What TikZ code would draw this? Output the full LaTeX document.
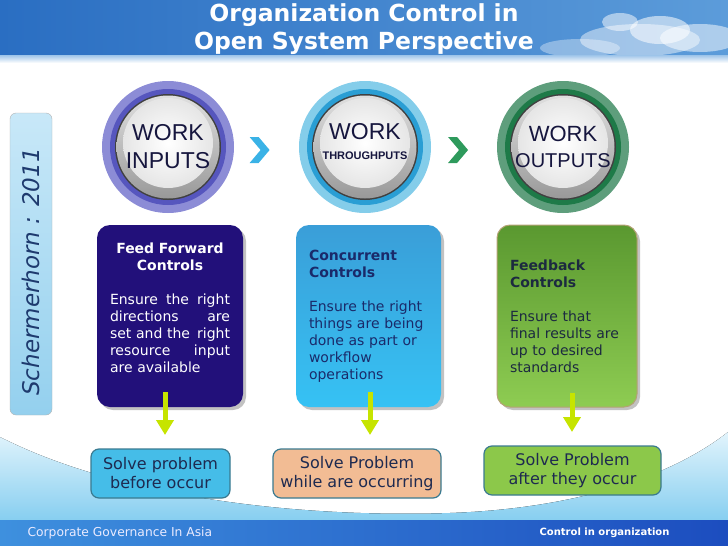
\documentclass[tikz,border=0pt]{standalone}
\usepackage{fontspec}
\setmainfont{DejaVu Sans}
\newfontfamily\arialfont{Liberation Sans}
\usetikzlibrary{arrows.meta,positioning,shadows,calc}
\definecolor{bannerA}{HTML}{2A6EC2}
\definecolor{bannerB}{HTML}{1F5CB4}
\definecolor{bannerC}{HTML}{5C9CDA}
\definecolor{footA}{HTML}{3E90DE}
\definecolor{footB}{HTML}{1C4DBF}
\definecolor{waveA}{HTML}{E2F4FC}
\definecolor{waveB}{HTML}{86CEF0}
\definecolor{ringInA}{HTML}{8C8CD6}
\definecolor{ringInB}{HTML}{5656BE}
\definecolor{ringThA}{HTML}{84CDEA}
\definecolor{ringThB}{HTML}{2A9ED4}
\definecolor{ringOutA}{HTML}{5E9E7C}
\definecolor{ringOutB}{HTML}{1E7A48}
\definecolor{workink}{HTML}{16163E}
\definecolor{chevblue}{HTML}{3AB2E6}
\definecolor{chevgreen}{HTML}{2E9A5C}
\definecolor{navybox}{HTML}{22107A}
\definecolor{skyA}{HTML}{3A9ED8}
\definecolor{skyB}{HTML}{36C2F4}
\definecolor{skyink}{HTML}{1A2A6A}
\definecolor{leafA}{HTML}{5A9830}
\definecolor{leafB}{HTML}{8ECC52}
\definecolor{leafink}{HTML}{1C2A40}
\definecolor{tanline}{HTML}{B4A274}
\definecolor{arrowlime}{HTML}{C6E400}
\definecolor{solveblue}{HTML}{45BDE8}
\definecolor{solvepeach}{HTML}{F2BC94}
\definecolor{solvegreen}{HTML}{8CC84A}
\definecolor{solveline}{HTML}{3A7A90}
\definecolor{solveink}{HTML}{1E2A50}
\definecolor{authA}{HTML}{C8E8F8}
\definecolor{authB}{HTML}{94D0EE}
\definecolor{authink}{HTML}{1E3A6E}
\newcommand{\jline}[3]{\makebox[120pt]{#1\hfill#2\hfill#3}}

\begin{document}
\begin{tikzpicture}[x=1pt, y=-1pt,
    workbtn/.style n args={2}{circle, minimum size=132pt, inner sep=0pt, fill=#1,
        text=workink, align=center,
        path picture={
            \coordinate (pc) at (path picture bounding box.center);
            \fill[#2] (pc) circle (58pt);
            \fill[black!75] (pc) circle (53pt);
            \shade[top color=gray!25, bottom color=gray!80] (pc) circle (51.5pt);
            \shade[inner color=white, outer color=gray!20] ([yshift=4pt]pc) circle (45pt);
        }},
    ctlbox/.style={rounded corners=13pt, minimum height=182pt, inner sep=0pt,
        drop shadow={shadow xshift=3pt, shadow yshift=-3pt, fill=black!40, opacity=.6},
        font=\fontsize{14}{17}\selectfont},
    solvebox/.style={rounded corners=8pt, draw=solveline, line width=1.2pt,
        minimum height=49pt, align=center, text=solveink,
        font=\fontsize{16}{19}\selectfont},
    downarrow/.style={line width=5pt, draw=arrowlime, -{Triangle[width=17pt,length=15pt]}}]
    \useasboundingbox (0,0) rectangle (728,546);

    % background: banner, wave and footer
    \fill[left color=bannerA, middle color=bannerB, right color=bannerC] (0,0) rectangle (728,55);
    \begin{scope}
        \clip (0,0) rectangle (728,55);
        \fill[white, opacity=.45] (640,40) ellipse (60pt and 16pt);
        \fill[white, opacity=.55] (660,30) ellipse (30pt and 14pt);
        \fill[white, opacity=.5] (700,38) ellipse (40pt and 14pt);
        \fill[white, opacity=.35] (580,48) ellipse (40pt and 9pt);
        \fill[white, opacity=.5] (620,22) ellipse (18pt and 9pt);
    \end{scope}
    \fill[top color=bannerC!60, bottom color=white] (0,55) rectangle (728,63);
    \fill[top color=waveA, bottom color=waveB] (0,437) .. controls (120,498) and (300,518) .. (450,513)
        .. controls (590,508) and (680,470) .. (728,432) -- (728,521) -- (0,521) -- cycle;
    \fill[left color=footA, right color=footB] (0,520) rectangle (728,546);

    \node[font=\bfseries\fontsize{23.5}{28}\selectfont, text=white, align=center] (title) at (364,29)
        {Organization Control in\\Open System Perspective};

    % author tag
    \node[rotate=90, draw=gray!60, rounded corners=6pt, top color=authA, bottom color=authB,
        minimum width=302pt, minimum height=42pt, text=authink,
        font=\itshape\fontsize{23}{24}\selectfont] (auth) at (31,264)
        {Schermerhorn : 2011\rule{16pt}{0pt}};

    % work buttons
    \node[workbtn={ringInA}{ringInB}, font=\arialfont\fontsize{23}{28}\selectfont] (win) at (168,147)
        {WORK\\INPUTS};
    \node[workbtn={ringThA}{ringThB}, font=\arialfont\fontsize{23}{22}\selectfont] (wthr) at (365,147)
        {WORK\\[-2pt]{\bfseries\fontsize{11}{12}\selectfont THROUGHPUTS}\\[-10pt]\mbox{}};
    \node[workbtn={ringOutA}{ringOutB}, font=\arialfont\fontsize{22}{26}\selectfont] (wout) at (563,147)
        {WORK\\{\fontsize{20}{24}\selectfont OUTPUTS}};

    \fill[chevblue] ($(win)!0.465!(wthr)$) ++(-10,-10) -- ++(9,0) -- ++(11,13) -- ++(-11,13)
        -- ++(-9,0) -- ++(11,-13) -- cycle;
    \fill[chevgreen] ($(wthr)!0.47!(wout)$) ++(-10,-10) -- ++(9,0) -- ++(11,13) -- ++(-11,13)
        -- ++(-9,0) -- ++(11,-13) -- cycle;

    % control boxes
    \node[ctlbox, fill=navybox, text=white, minimum width=146pt, text width=120pt, align=center]
        (ffc) at (170,316)
        {\textbf{Feed Forward}\\\textbf{Controls}\\[17pt]
         \jline{Ensure}{the}{right}\\
         \jline{directions}{}{are}\\
         \jline{set and the}{}{right}\\
         \jline{resource}{}{input}\\
         \makebox[120pt][l]{are available}\\ \mbox{}};
    \node[ctlbox, top color=skyA, bottom color=skyB, text=skyink, minimum width=145pt,
        text width=119pt, align=left] (cc) at (368.5,316)
        {\textbf{Concurrent}\\\textbf{Controls}\\[17pt]
         Ensure the right\\things are being\\done as part or\\workflow\\operations};
    \node[ctlbox, top color=leafA, bottom color=leafB, draw=tanline, line width=1pt,
        text=leafink, minimum width=140pt, text width=114pt, align=left] (fbc) at (567,316)
        {\textbf{Feedback}\\\textbf{Controls}\\[17pt]
         Ensure that\\final results are\\up to desired\\standards};

    % solutions
    \node[solvebox, fill=solveblue, minimum width=139pt] (sbefore) at (160.5,473.5)
        {Solve problem\\before occur};
    \node[solvebox, fill=solvepeach, minimum width=168pt] (swhile) at (357,473.5)
        {Solve Problem\\while are occurring};
    \node[solvebox, fill=solvegreen, minimum width=177pt] (safter) at (572.5,470.5)
        {Solve Problem\\after they occur};

    \draw[downarrow] ([xshift=-5pt, yshift=15pt]ffc.south) -- ([xshift=-5pt]ffc.south |- 0,435);
    \draw[downarrow] ([xshift=1.5pt, yshift=15pt]cc.south) -- ([xshift=1.5pt]cc.south |- 0,435);
    \draw[downarrow] ([xshift=5pt, yshift=15pt]fbc.south) -- ([xshift=5pt]fbc.south |- 0,432);

    % footer
    \node[anchor=west, text=white!92!blue, font=\fontsize{12.3}{14}\selectfont] (ftl) at (24,533)
        {Corporate Governance In Asia};
    \node[anchor=east, text=white, font=\bfseries\fontsize{10}{12}\selectfont] (ftr) at (673,533)
        {Control in organization};
\end{tikzpicture}
\end{document}
